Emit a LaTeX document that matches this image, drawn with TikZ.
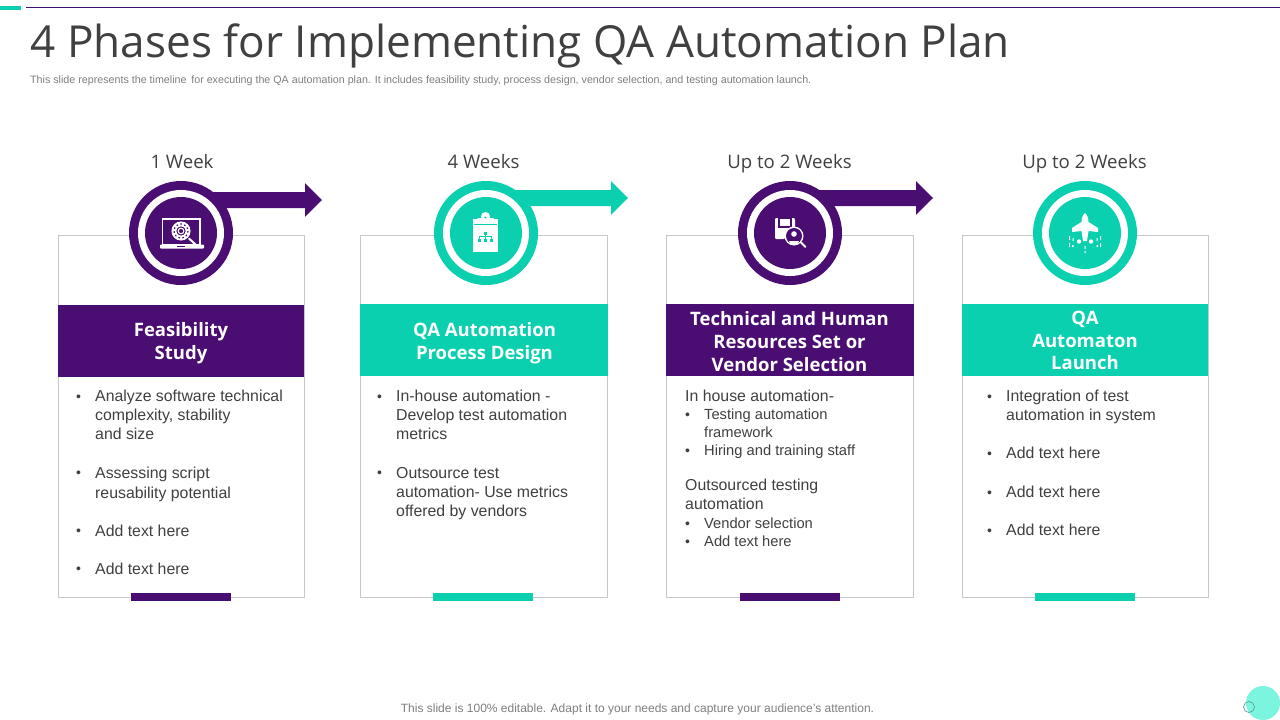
\documentclass[tikz,border=0pt]{standalone}
\usepackage{fontspec}
\setmainfont{Liberation Sans}
\newfontfamily\headfont{Open Sans}
\definecolor{qapurple}{HTML}{4A0E72}
\definecolor{qateal}{HTML}{0BD0B0}
\definecolor{qatext}{HTML}{404040}
\definecolor{qagrey}{HTML}{7F7F7F}
\definecolor{qaborder}{HTML}{C8C8C8}
\definecolor{qablob}{HTML}{7CF5DF}
\definecolor{qaring}{HTML}{5F9F95}
\tikzset{
  x=1pt,y=-1pt,
  card/.style={draw=qaborder,line width=.8pt,fill=white},
  head/.style={anchor=center,align=center,text=white,font=\headfont\bfseries\fontsize{18.5}{22.7}\selectfont,inner sep=0pt},
  body/.style={anchor=base west,align=left,text=qatext,font=\fontsize{15.85}{19}\selectfont,inner sep=0pt},
  small/.style={anchor=base west,align=left,text=qatext,font=\fontsize{14.7}{18}\selectfont,inner sep=0pt},
  dot/.style={anchor=base west,text=qatext,font=\fontsize{14}{18}\selectfont,inner sep=0pt},
  week/.style={anchor=base,text=qatext,font=\headfont\fontsize{18.6}{22}\selectfont,inner sep=0pt},
  outerc/.style={circle,minimum size=104pt,inner sep=0pt,fill=#1},
  ringc/.style={circle,minimum size=86pt,inner sep=0pt,fill=white},
  innerc/.style={circle,minimum size=72pt,inner sep=0pt,fill=#1},
}
\newcommand{\qaarrow}[3]{% centre x, shaft centre y, colour
  \fill[#3] (#1,#2-8) -- (#1+125,#2-8) -- (#1+125,#2-16.8) -- (#1+142,#2) -- (#1+125,#2+16.8) -- (#1+125,#2+8) -- (#1,#2+8) -- cycle;}
\begin{document}
\begin{tikzpicture}
\useasboundingbox (0,0) rectangle (1280,720);
\fill[white] (0,0) rectangle (1280,720);
% top rules
\fill[qateal] (0,6) rectangle (21,9.5);
\draw[qapurple,line width=1pt] (26,7.5) -- (1280,7.5);
% title
\node[anchor=base west,inner sep=0pt,text=qatext,font=\headfont\fontsize{44.1}{50}\selectfont] (title) at (30.5,57.5) {4 Phases for Implementing QA Automation Plan};
\node[anchor=base west,inner sep=0pt,text=qagrey,font=\fontsize{10.7}{12}\selectfont] (sub) at (30,83) {This slide represents the timeline\, for executing the QA automation plan. It includes feasibility study, process design, vendor selection, and testing automation launch.};
% week labels
\node[week] (w1) at (182,168.5) {1 Week};
\node[week] (w2) at (483.5,168.5) {4 Weeks};
\node[week] (w3) at (789.5,168.5) {Up to 2 Weeks};
\node[week] (w4) at (1084.5,168.5) {Up to 2 Weeks};
% cards
\draw[card] (58.5,235.5) rectangle (304.5,597.5);
\draw[card] (360.5,235.5) rectangle (607.5,597.5);
\draw[card] (666.5,235.5) rectangle (913.5,597.5);
\draw[card] (962.5,235.5) rectangle (1208.5,597.5);
% card headers
\fill[qapurple] (58,305) rectangle (304,377);
\fill[qateal] (360,304) rectangle (608,376);
\fill[qapurple] (666,304) rectangle (914,376);
\fill[qateal] (962,304) rectangle (1208,376);
\node[head] (h1) at (181,343) {Feasibility\\Study};
\node[head] (h2) at (484.5,343) {QA Automation\\Process Design};
\node[head] (h3) at (789.5,341.5) {Technical and Human\\Resources Set or\\Vendor Selection};
\node[head] (h4) at (1085,340.5) {QA\\Automaton\\Launch};
% bottom bars
\fill[qapurple] (131,593) rectangle (231,601);
\fill[qateal] (433,593) rectangle (533,601);
\fill[qapurple] (740,593) rectangle (840,601);
\fill[qateal] (1035,593) rectangle (1135,601);
% arrows
\qaarrow{180}{200}{qapurple}
\qaarrow{486}{198}{qateal}
\qaarrow{791}{198}{qapurple}
% badges
\node[outerc=qapurple] (c1) at (181,233) {};
\node[ringc] at (c1) (r1) {};
\node[innerc=qapurple] at (c1) (i1) {};
\node[outerc=qateal] (c2) at (486,233) {};
\node[ringc] at (c2) (r2) {};
\node[innerc=qateal] at (c2) (i2) {};
\node[outerc=qapurple] (c3) at (790,233) {};
\node[ringc] at (c3) (r3) {};
\node[innerc=qapurple] at (c3) (i3) {};
\node[outerc=qateal] (c4) at (1085,233) {};
\node[ringc] at (c4) (r4) {};
\node[innerc=qateal] at (c4) (i4) {};
% icon 1: laptop with gear
\draw[white,line width=1.6pt] (162.5,219) rectangle (200,244.5);
\fill[white,rounded corners=.8pt] (160,244.5) rectangle (204,248.5);
\fill[qapurple] (177,246) rectangle (185,247);
\draw[white,line width=5pt] (181,231) circle (7);
\draw[qapurple,line width=1.2pt,dash pattern=on 1.6pt off 2.4pt] (181,231) circle (7);
\fill[qapurple] (181,231) circle (4.4);
\draw[white,line width=1.1pt] (181,231) circle (2.8);
\draw[white,line width=2pt,line cap=round] (189,238.5) -- (196,245);
% icon 2: clipboard
\fill[white] (473,219) rectangle (498,252);
\fill[white] (485.5,216.5) circle (4.5);
\fill[white,rounded corners=1pt] (477,218) rectangle (494,223.5);
\fill[qateal] (485.5,217.5) circle (1.2);
\draw[qateal,line width=.9pt] (474,224.5) -- (497,224.5);
\fill[qateal] (484,231.5) rectangle (487,234.5);
\fill[qateal] (478,239) rectangle (481,242);
\fill[qateal] (484,239) rectangle (487,242);
\fill[qateal] (490,239) rectangle (493,242);
\draw[qateal,line width=.6pt] (485.5,234) -- (485.5,239) (479.5,239) -- (479.5,236.7) -- (491.5,236.7) -- (491.5,239);
% icon 3: floppy and magnifier
\fill[white,rounded corners=1pt] (775,218) -- (794,218) -- (795,219) -- (795,232) -- (784,239) -- (775,239) -- cycle;
\draw[qapurple,line width=1.1pt] (779,218) rectangle (791,227);
\fill[white] (780,219) rectangle (790,226);
\fill[white] (794,236) circle (9.5);
\fill[qapurple] (794,236) circle (8);
\fill[white] (794,234) circle (2.8);
\fill[white] (789,241) arc[start angle=180,end angle=0,x radius=5,y radius=4] -- cycle;
\draw[white,line width=1.8pt,line cap=round] (801,242.5) -- (805.5,247);
% icon 4: plane
\fill[white] (1085,213) .. controls (1082.5,215) and (1081.5,219) .. (1081.5,222) -- (1072,228) -- (1072,232) -- (1081.5,231) -- (1083,241) -- (1087,241) -- (1088.5,231) -- (1098,232) -- (1098,228) -- (1088.5,222) .. controls (1088.5,219) and (1087.5,215) .. (1085,213) -- cycle;
\fill[white] (1079,241.5) circle (2.2) (1091,241.5) circle (2.2);
\fill[white] (1069,236) rectangle (1070,240) (1069,243) rectangle (1070,247) (1072.5,238) rectangle (1073.5,241) (1072,245) rectangle (1073.5,247);
\fill[white] (1100,236) rectangle (1101,240) (1100,243) rectangle (1101,247) (1096.5,238) rectangle (1097.5,241) (1096.5,245) rectangle (1098,247);
\fill[white] (1084.5,246) rectangle (1085.5,249) (1084.5,251) rectangle (1085.5,253);
% card 1 text
\node[dot] (d1a) at (76,401) {•};
\node[body] (b1a) at (95,439.5) {Analyze software technical\\complexity, stability\\and size};
\node[dot] (d1b) at (76,477) {•};
\node[body] (b1b) at (95,498) {Assessing script\\[1pt]reusability potential};
\node[dot] (d1c) at (76,535) {•};
\node[body] (b1c) at (95,536) {Add text here};
\node[dot] (d1d) at (76,573) {•};
\node[body] (b1d) at (95,574) {Add text here};
% card 2 text
\node[dot] (d2a) at (377,401) {•};
\node[body] (b2a) at (396,439.5) {In-house automation -\\Develop test automation\\metrics};
\node[dot] (d2b) at (377,477) {•};
\node[body] (b2b) at (396,516.5) {Outsource test\\[.5pt]automation- Use metrics\\offered by vendors};
% card 3 text
\node[body] (b3a) at (685,401.5) {In house automation-};
\node[dot] (d3a) at (685,419) {•};
\node[small] (b3b) at (704,437) {Testing automation\\framework};
\node[dot] (d3b) at (685,455) {•};
\node[small] (b3c) at (704,455) {Hiring and training staff};
\node[body] (b3d) at (685,509.5) {Outsourced testing\\automation};
\node[dot] (d3c) at (685,528) {•};
\node[small] (b3e) at (704,528) {Vendor selection};
\node[dot] (d3d) at (685,546) {•};
\node[small] (b3f) at (704,546) {Add text here};
% card 4 text
\node[dot] (d4a) at (987,401) {•};
\node[body] (b4a) at (1006,420.5) {Integration of test\\automation in system};
\node[dot] (d4b) at (987,458) {•};
\node[body] (b4b) at (1006,458.5) {Add text here};
\node[dot] (d4c) at (987,497) {•};
\node[body] (b4c) at (1006,497.5) {Add text here};
\node[dot] (d4d) at (987,535) {•};
\node[body] (b4d) at (1006,535.5) {Add text here};
% footer
\node[anchor=base,inner sep=0pt,text=qagrey,font=\fontsize{12}{14}\selectfont] (foot) at (637.5,712) {This slide is 100\% editable. Adapt it to your needs and capture your audience’s attention.};
\fill[qablob] (1263,703) circle (17);
\draw[qaring,line width=.7pt] (1249,707) circle (5.5);
\end{tikzpicture}
\end{document}
